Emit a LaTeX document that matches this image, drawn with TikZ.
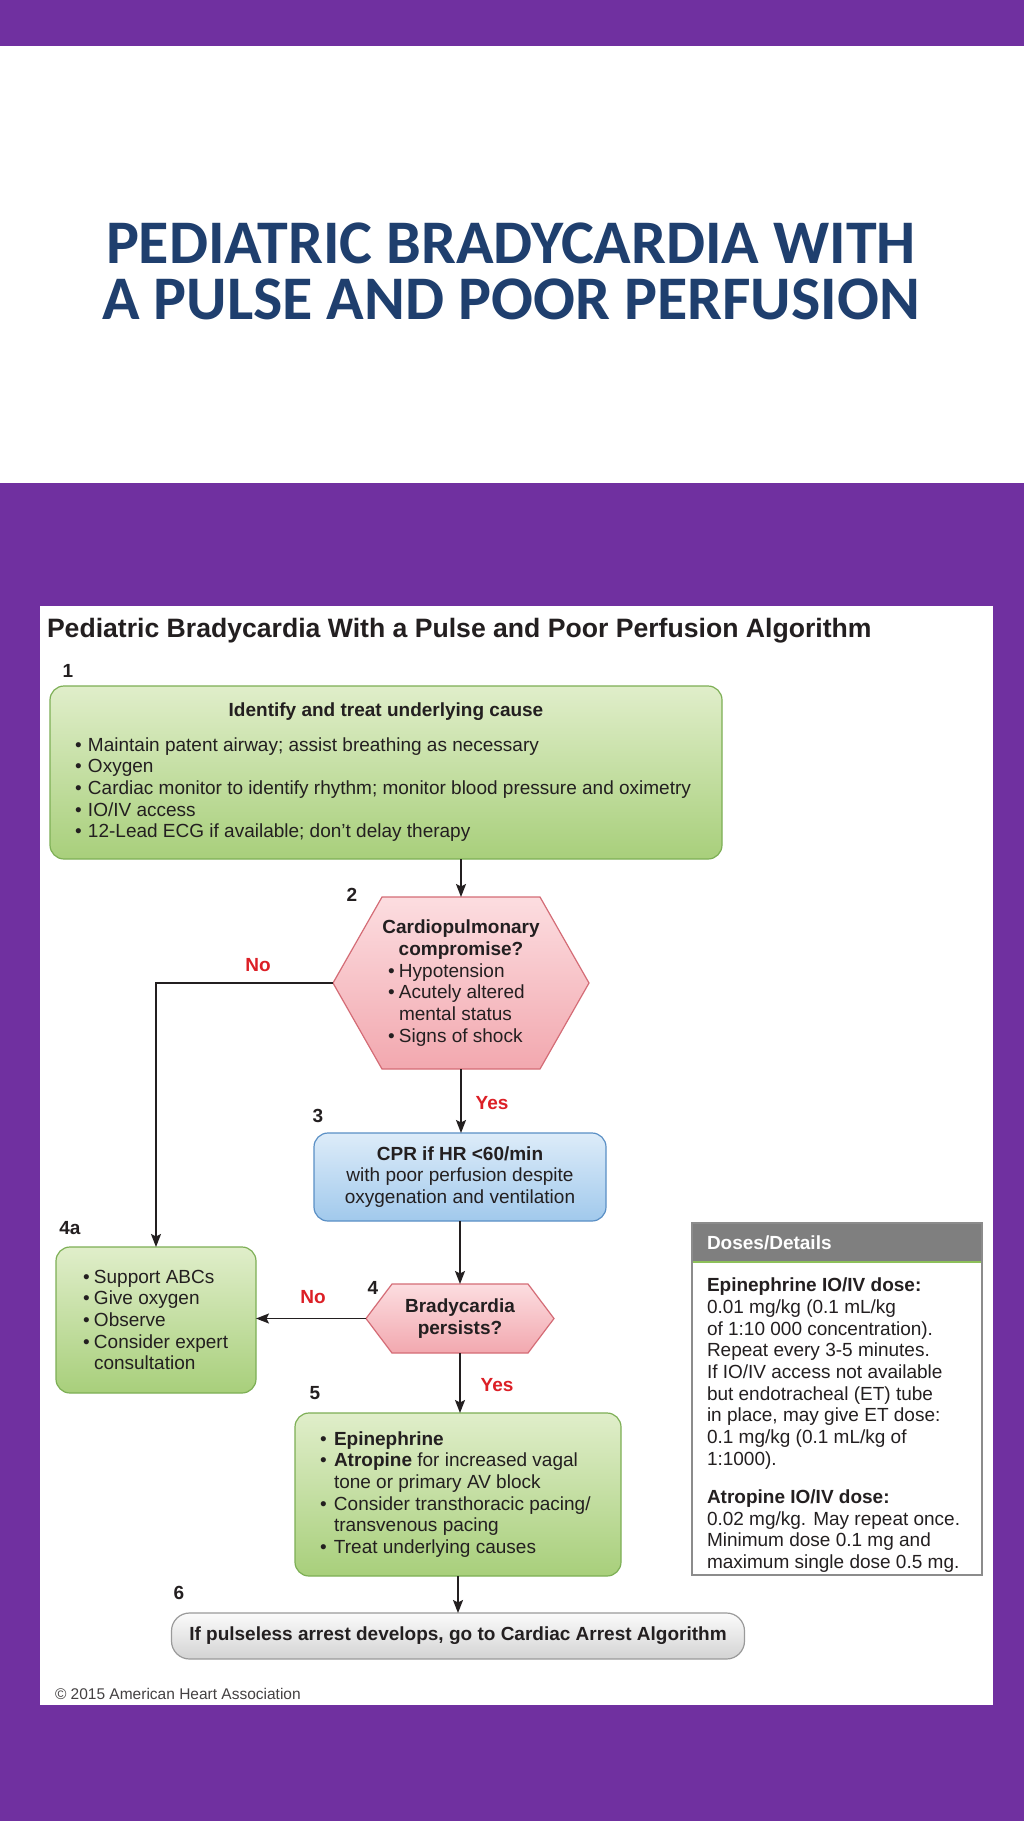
\documentclass[tikz,border=0pt]{standalone}
\usepackage{fontspec}
\setmainfont{Liberation Sans}
\newfontfamily\carlito{Carlito}
\usetikzlibrary{arrows.meta,calc}

\definecolor{purp}{HTML}{7030A0}
\definecolor{navy}{HTML}{1F3F6E}
\definecolor{ink}{HTML}{231F20}
\definecolor{redlab}{HTML}{DC1F26}
\definecolor{gtop}{HTML}{E0EECA}
\definecolor{gbot}{HTML}{A8CF7B}
\definecolor{gline}{HTML}{7DAF55}
\definecolor{ptop}{HTML}{FCDDE0}
\definecolor{pbot}{HTML}{F2A8AF}
\definecolor{pline}{HTML}{D46C76}
\definecolor{btop}{HTML}{DDECF9}
\definecolor{bbot}{HTML}{A1C9EC}
\definecolor{bline}{HTML}{5A8FC5}
\definecolor{ctop}{HTML}{FBFBFB}
\definecolor{cbot}{HTML}{D3D3D3}
\definecolor{cline}{HTML}{9A9A9A}
\definecolor{hdr}{HTML}{7F7F7F}
\definecolor{dline}{HTML}{8C8C8C}
\definecolor{hgreen}{HTML}{8DC05A}

\newcommand{\bodyfont}{\fontsize{19}{21.7}\selectfont}
\newcommand{\bl}[2][13pt]{\mbox{\makebox[#1][l]{\textbullet}#2}}
\newcommand{\ind}[2][13pt]{\mbox{\hspace*{#1}#2}}
% style, cx, cy, halfwidth, indent, halfheight
\newcommand{\hexpath}[6]{%
  \path[#1] (#2-#4,#3) -- (#2-#4+#5,#3-#6) -- (#2+#4-#5,#3-#6) -- (#2+#4,#3)
    -- (#2+#4-#5,#3+#6) -- (#2-#4+#5,#3+#6) -- cycle;}

\tikzset{
  plain/.style={inner sep=0pt, outer sep=0pt},
  gbox/.style={plain, draw=gline, line width=1.2pt, rounded corners=14pt,
    top color=gtop, bottom color=gbot, text=ink, font=\bodyfont},
  bbox/.style={plain, draw=bline, line width=1.2pt, rounded corners=14pt,
    top color=btop, bottom color=bbot, text=ink, font=\bodyfont, align=center},
  cbox/.style={plain, draw=cline, line width=1.2pt, rounded corners=18pt,
    top color=ctop, bottom color=cbot, text=ink, font=\bodyfont\bfseries},
  hexfill/.style={draw=pline, line width=1.2pt, top color=ptop, bottom color=pbot},
  hexnode/.style={plain, text=ink, font=\bodyfont},
  num/.style={plain, font=\bodyfont\bfseries, text=ink},
  lab/.style={plain, font=\bodyfont\bfseries, text=redlab},
  arr/.style={draw=ink, line width=1.7pt, -{Stealth[length=13pt,width=10pt,inset=2.5pt]}}
}

\begin{document}
\begin{tikzpicture}[x=1pt,y=-1pt]
\useasboundingbox (0,0) rectangle (1024,1821);
% backgrounds
\fill[purp] (0,0) rectangle (1024,1821);
\fill[white] (0,46) rectangle (1024,483);
\fill[white] (40,606) rectangle (993,1705);

% big title
\node[plain, anchor=base, font=\carlito\bfseries\fontsize{62}{62}\selectfont, text=navy] (t1) at (511,263) {PEDIATRIC BRADYCARDIA WITH};
\node[plain, anchor=base, font=\carlito\bfseries\fontsize{62}{62}\selectfont, text=navy] (t2) at (511,319) {A PULSE AND POOR PERFUSION};

% heading
\node[plain, anchor=base west, font=\bfseries\fontsize{26.6}{27}\selectfont, text=ink] (head) at (47,637) {Pediatric Bradycardia With a Pulse and Poor Perfusion Algorithm};

% box 1
\node[gbox, minimum width=672pt, minimum height=173pt] (b1) at (386,772.5) {\parbox{622pt}{%
  \makebox[622pt]{\bfseries Identify and treat underlying cause}\\[12.5pt]
  \bl{Maintain patent airway; assist breathing as necessary}\\
  \bl{Oxygen}\\
  \bl{Cardiac monitor to identify rhythm; monitor blood pressure and oximetry}\\
  \bl{IO/IV access}\\
  \bl{12-Lead ECG if available; don’t delay therapy}}};

% hexagon 2
\hexpath{hexfill}{461}{983}{128}{49}{86}
\node[hexnode, minimum width=256pt, minimum height=172pt] (h2) at (461,983) {\parbox{146pt}{%
  \makebox[146pt]{\bfseries Cardiopulmonary}\\
  \makebox[146pt]{\bfseries compromise?}\\
  \bl[11pt]{Hypotension}\\
  \bl[11pt]{Acutely altered}\\
  \ind[11pt]{mental status}\\
  \bl[11pt]{Signs of shock}}};

% box 3
\node[bbox, minimum width=292pt, minimum height=88pt] (b3) at (460,1177) {\textbf{CPR if HR <60/min}\\with poor perfusion despite\\oxygenation and ventilation};

% box 4a
\node[gbox, minimum width=200pt, minimum height=146pt] (b4a) at (156,1320) {\parbox{146pt}{%
  \bl[11pt]{Support ABCs}\\
  \bl[11pt]{Give oxygen}\\
  \bl[11pt]{Observe}\\
  \bl[11pt]{Consider expert}\\
  \ind[11pt]{consultation}}};

% hexagon 4
\hexpath{hexfill}{460}{1318.5}{94}{26}{34.5}
\node[hexnode, minimum width=188pt, minimum height=69pt, align=center, font=\bodyfont\bfseries] (h4) at (460,1318.5) {Bradycardia\\persists?};

% box 5
\node[gbox, minimum width=326pt, minimum height=163pt] (b5) at (458,1494.5) {\parbox{276pt}{%
  \bl[14pt]{\textbf{Epinephrine}}\\
  \bl[14pt]{\textbf{Atropine} for increased vagal}\\
  \ind[14pt]{tone or primary AV block}\\
  \bl[14pt]{Consider transthoracic pacing/}\\
  \ind[14pt]{transvenous pacing}\\
  \bl[14pt]{Treat underlying causes}}};

% box 6
\node[cbox, minimum width=573pt, minimum height=46pt] (b6) at (458,1636) {If pulseless arrest develops, go to Cardiac Arrest Algorithm};

% step numbers
\node[num] (n1) at (68,671) {1};
\node[num] (n2) at (352,895) {2};
\node[num] (n3) at (318,1116) {3};
\node[num] (n4a) at (70,1228) {4a};
\node[num] (n4) at (373,1288) {4};
\node[num] (n5) at (315,1393) {5};
\node[num] (n6) at (179,1593) {6};

% yes/no labels
\node[lab] (no1) at (258,965) {No};
\node[lab] (yes1) at (492,1103) {Yes};
\node[lab] (no2) at (313,1297) {No};
\node[lab] (yes2) at (497,1385) {Yes};

% connectors
\draw[arr] (b1.south -| h2.north) -- (h2.north);
\draw[arr] (h2.south) -- (h2.south |- b3.north);
\draw[arr] (h2.west) -| (b4a.north);
\draw[arr] (b3.south) -- (b3.south |- h4.north);
\draw[arr] (h4.west) -- (h4.west -| b4a.east);
\draw[arr] (h4.south) -- (h4.south |- b5.north);
\draw[arr] (b5.south) -- (b5.south |- b6.north);

% doses / details
\node[plain, anchor=north west, fill=hdr, minimum width=290pt, minimum height=39pt, text=white, font=\bodyfont\bfseries, text width=260pt, inner xsep=15pt, align=left] (ddh) at (692,1223) {Doses/Details};
\draw[hgreen, line width=2pt] (ddh.south west) -- (ddh.south east);
\node[plain, anchor=north west, draw=dline, line width=1.5pt, minimum width=290pt, minimum height=352pt] (dd) at (692,1223) {};
\node[plain, anchor=north west, align=left, font=\bodyfont, text=ink] (ddt) at (707,1278) {%
  \textbf{Epinephrine IO/IV dose:}\\
  0.01 mg/kg (0.1 mL/kg\\
  of 1:10 000 concentration).\\
  Repeat every 3-5 minutes.\\
  If IO/IV access not available\\
  but endotracheal (ET) tube\\
  in place, may give ET dose:\\
  0.1 mg/kg (0.1 mL/kg of\\
  1:1000).\\[16.5pt]
  \textbf{Atropine IO/IV dose:}\\
  0.02 mg/kg. May repeat once.\\
  Minimum dose 0.1 mg and\\
  maximum single dose 0.5 mg.};

% copyright
\node[plain, anchor=west, font=\fontsize{15.5}{16}\selectfont, text=ink!85] (copy) at (55,1694) {© 2015 American Heart Association};
\end{tikzpicture}
\end{document}
